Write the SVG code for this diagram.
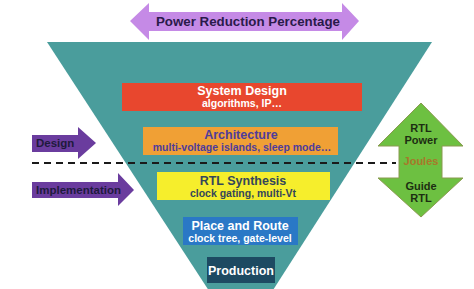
<svg xmlns="http://www.w3.org/2000/svg" width="474" height="289" viewBox="0 0 474 289">
<style>
text{font-family:"Liberation Sans",Arial,sans-serif;font-weight:bold;text-anchor:middle}
.t{font-size:12.5px}
.s{font-size:10.5px}
.w{fill:#ffffff}
.lbl{text-anchor:start;fill:#1e1a3c;font-size:11.5px}
.g{fill:#1c2e12;font-size:11px}
</style>
<rect width="474" height="289" fill="#ffffff"/>
<g id="funnel">
<polygon points="47,42 432,42 241,340" fill="#4a9d9c"/>
</g>
<g id="power-reduction">
<polygon points="130,21 149,3 149,12 342,12 342,3 359,21 342,40 342,31 149,31 149,40" fill="#c58ae6"/>
<text x="248" y="26" font-size="13.3" fill="#2a1a4a">Power Reduction Percentage</text>
</g>
<g id="system-design">
<rect x="122" y="83" width="240" height="28" fill="#e8472e"/>
<text x="242" y="95" class="t w">System Design</text>
<text x="242" y="107" class="s w">algorithms, IP…</text>
</g>
<g id="architecture">
<rect x="143" y="127" width="195" height="28" fill="#f0a035"/>
<text x="241" y="139" class="t" fill="#4e3c9c">Architecture</text>
<text x="242" y="151" class="s" fill="#4e3c9c">multi-voltage islands, sleep mode…</text>
</g>
<g id="rtl-synthesis">
<rect x="157" y="172" width="173" height="28" fill="#f6ee2c"/>
<text x="243" y="185" class="t" fill="#34465a">RTL Synthesis</text>
<text x="243" y="197" class="s" fill="#34465a">clock gating, multi-Vt</text>
</g>
<g id="place-and-route">
<rect x="183" y="217" width="115" height="28" fill="#2a78c6"/>
<text x="240" y="230" class="t w">Place and Route</text>
<text x="240" y="242" class="s w">clock tree, gate-level</text>
</g>
<g id="production">
<rect x="207" y="257" width="68" height="26" fill="#1d4a62"/>
<text x="241" y="275" class="t w">Production</text>
</g>
<g id="design">
<polygon points="32,135 78,135 78,127 96,143 78,159 78,152 32,152" fill="#6a3c9e"/>
<text x="36" y="147" class="lbl">Design</text>
</g>
<g id="implementation">
<polygon points="32,182 118,182 118,173 134,190 118,206 118,198 32,198" fill="#6a3c9e"/>
<text x="36" y="194" class="lbl">Implementation</text>
</g>
<g id="rtl-power">
<polygon points="421,103 463,146 442,146 442,178 463,178 421,217 378,178 399,178 399,146 378,146" fill="#6dc041" stroke="#8a9a50" stroke-width="1"/>
<text x="421" y="132" class="g">RTL</text>
<text x="421" y="144" class="g">Power</text>
<text x="421" y="165" class="g" style="fill:#a8782a">Joules</text>
<text x="421" y="190" class="g">Guide</text>
<text x="421" y="202" class="g">RTL</text>
</g>
<g id="connectors">
<line x1="32" y1="163" x2="396" y2="163" stroke="#1a1a1a" stroke-width="1.8" stroke-dasharray="7,5"/>
</g>
</svg>
